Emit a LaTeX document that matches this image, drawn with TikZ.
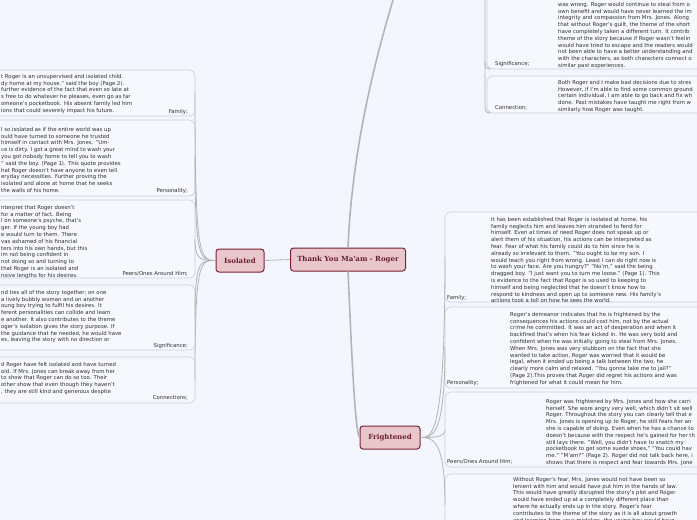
\documentclass[tikz,border=0pt]{standalone}
\usepackage{fontspec}
\setmainfont{DejaVu Sans}
\newfontfamily\titlefont{DejaVu Serif}
\definecolor{bg}{HTML}{F3F6FE}
\definecolor{boxln}{HTML}{CDD0D8}
\definecolor{conn}{HTML}{B4B4B4}
\definecolor{nfill}{HTML}{E8C6CC}
\definecolor{nline}{HTML}{7A2233}
\definecolor{ntext}{HTML}{6B1F2E}
\definecolor{txt}{HTML}{2E2E2E}
\begin{document}
\begin{tikzpicture}[x=1pt,y=-1pt,
  topic/.style={draw=nline,line width=1pt,fill=nfill,rounded corners=3pt,text=ntext,font=\titlefont\bfseries\fontsize{7}{8}\selectfont,inner sep=0pt,minimum height=23pt},
  para/.style={anchor=north west,align=left,inner sep=0pt,text=txt,font=\fontsize{5.35}{6.8}\selectfont},
  lbl/.style={anchor=base west,inner sep=0pt,text=txt,font=\fontsize{5.35}{6.8}\selectfont},
  lblr/.style={anchor=base east,inner sep=0pt,text=txt,font=\fontsize{5.35}{6.8}\selectfont},
  bx/.style={draw=boxln,line width=0.7pt,rounded corners=6pt,fill=white,fill opacity=0.25,draw opacity=1},
  cn/.style={draw=conn,line width=0.8pt},
  trunk/.style={draw=conn,line width=1.6pt}]
\useasboundingbox (0,0) rectangle (697,520);
\fill[bg] (0,0) rectangle (697,520);

% boxes left
\draw[bx] (-20,70) rectangle (195,116);
\draw[bx] (-20,120) rectangle (195,196);
\draw[bx] (-20,200) rectangle (195,278);
\draw[bx] (-20,285) rectangle (195,350);
\draw[bx] (-20,357) rectangle (195,403);
% boxes right (Frightened)
\draw[bx] (445,212) rectangle (720,302);
\draw[bx] (445,307) rectangle (720,388);
\draw[bx] (445,392) rectangle (720,467);
\draw[bx] (445,474) rectangle (720,540);
% boxes top right
\draw[bx] (487,-20) rectangle (720,69);
\draw[bx] (487,76) rectangle (720,113);

% nodes
\node[topic,minimum width=115pt] (root) at (348,259.5) {Thank You Ma'am - Roger};
\node[topic,minimum width=48pt] (iso) at (240,260.5) {Isolated};
\node[topic,minimum width=60pt] (fri) at (390,437.5) {Frightened};
\coordinate (topend) at (393,0);
\coordinate (trtop) at (485,0);

% connectors
\draw[trunk] (root.north) .. controls (352,150) and (375,60) .. (topend);
\draw[trunk] (root.south) .. controls (352,360) and (355,430) .. (fri.west);
\draw[cn] (root.west) -- (iso.east);
\foreach \y in {93,158,239,318,380}{
  \draw[cn] (iso.west) .. controls (200,260) and (195,260) .. (195,\y);
}
\foreach \y in {257,347,430,505}{
  \draw[cn] (fri.east) .. controls (432,437.5) and (445,437.5) .. (445,\y);
}
\draw[cn] (trtop) -- (485,62) .. controls (485,66) and (486,69) .. (490,69);
\draw[cn] (485,62) -- (485,106) .. controls (485,110) and (486,113) .. (490,113);

% left texts
\node[para] at (1,74) {t Roger is an unsupervised and isolated child.\\dy home at my house." said the boy (Page 2).\\ further evidence of the fact that even so late at\\s free to do whatever he pleases, even go as far\\omeone's pocketbook. His absent family led him\\ions that could severely impact his future.};
\node[lblr] at (188,113) {Family;};
\node[para] at (1,127) {l so isolated as if the entire world was up\\ould have turned to someone he trusted\\ himself in contact with Mrs. Jones. "Um-\\ce is dirty. I got a great mind to wash your\\ you got nobody home to tell you to wash\\" said the boy. (Page 1). This quote provides\\hat Roger doesn't have anyone to even tell\\eryday necessities. Further proving the\\ isolated and alone at home that he seeks\\ the walls of his home.};
\node[lblr] at (188,192) {Personality;};
\node[para] at (1,205) {nterpret that Roger doesn't\\ for a matter of fact. Being\\l on someone's psyche, that's\\ger. If the young boy had\\e would turn to them. There\\vas ashamed of his financial\\ters into his own hands, but this\\im not being confident in\\ not doing so and turning to\\ that Roger is an isolated and\\nsive lengths for his desires.};
\node[lblr] at (188,275) {Peers/Ones Around Him;};
\node[para] at (1,290) {nd ties all of the story together; on one\\a lively  bubbly woman and on another\\oung boy trying to fulfil his desires. It\\ferent personalities can collide and learn\\e another. It also contributes to the theme\\oger's isolation gives the story purpose. If\\the guidance that he needed, he would have\\es, leaving the story with no direction or};
\node[lblr] at (188,347) {Significance;};
\node[para] at (1,362) {d Roger have felt isolated and have turned\\oid. If Mrs. Jones can break away from her\\to show that Roger can do so too. Their\\ other show that even though they haven't\\, they are still kind and generous despite};
\node[lblr] at (188,399) {Connections;};

% Frightened texts
\node[para] at (491,217) {It has been established that Roger is isolated at home, his\\family neglects him and leaves him stranded to fend for\\himself. Even at times of need Roger does not speak up or\\alert them of his situation, his actions can be interpreted as\\fear. Fear of what his family could do to him since he is\\already so irrelevant to them. "You ought to be my son. I\\would teach you right from wrong. Least I can do right now is\\to wash your face. Are you hungry?" "No'm," said the being\\dragged boy. "I just want you to turn me loose." (Page 1). This\\is evidence to the fact that Roger is so used to keeping to\\himself and being neglected that he doesn't know how to\\respond to kindness and open up to someone new. His family's\\actions took a toll on how he sees the world.};
\node[lbl] at (447,299) {Family;};
\node[para] at (510,312) {Roger's demeanor indicates that he is frightened by the\\consequences his actions could cost him, not by the actual\\crime he committed. It was an act of desperation and when it\\backfired that's when his fear kicked in. He was very bold and\\confident when he was initially going to steal from Mrs. Jones.\\When Mrs. Jones was very stubborn on the fact that she\\wanted to take action, Roger was worried that it would be\\legal, when it ended up being a talk between the two, he\\clearly more calm and relaxed. "You gonna take me to jail?"\\(Page 2).This proves that Roger did regret his actions and was\\frightened for what it could mean for him.};
\node[lbl] at (447,384) {Personality;};
\node[para] at (546,399) {Roger was frightened by Mrs. Jones and how she carri\\herself. She wore angry very well, which didn't sit well\\Roger. Throughout the story you can clearly tell that e\\Mrs. Jones is opening up to Roger, he still fears her an\\she is capable of doing. Even when he has a chance to\\doesn't because with the respect he's gained for her th\\still lays there. "Well, you didn't have to snatch my\\pocketbook to get some suede shoes," "You could hav\\me." "M'am?" (Page 2). Roger did not talk back here, i\\shows that there is respect and fear towards Mrs. Jone};
\node[lbl] at (447,463) {Peers/Ones Around Him;};
\node[para] at (513,477) {Without Roger's fear, Mrs. Jones would not have been so\\lenient with him and would have put him in the hands of law.\\This would have greatly disrupted the story's plot and Roger\\would have ended up at a completely different place than\\where he actually ends up in the story. Roger's fear\\contributes to the theme of the story as it is all about growth\\and learning from your mistakes, the young boy would have};

% top right texts
\node[para] at (558,2) {was wrong. Roger would continue to steal from o\\own benefit and would have never learned the im\\integrity and compassion from Mrs. Jones. Along\\that without Roger's guilt, the theme of the short\\have completely taken a different turn. It contrib\\theme of the story because if Roger wasn't feelin\\would have tried to escape and the readers would\\not been able to have a better understanding and\\with the characters, as both characters connect o\\similar past experiences.};
\node[lbl] at (495,65) {Significance;};
\node[para] at (558,80) {Both Roger and I make bad decisions due to stres\\However, if I'm able to find some common ground\\certain individual, I am able to go back and fix wh\\done. Past mistakes have taught me right from w\\similarly how Roger was taught.};
\node[lbl] at (495,109) {Connection;};
\end{tikzpicture}
\end{document}
